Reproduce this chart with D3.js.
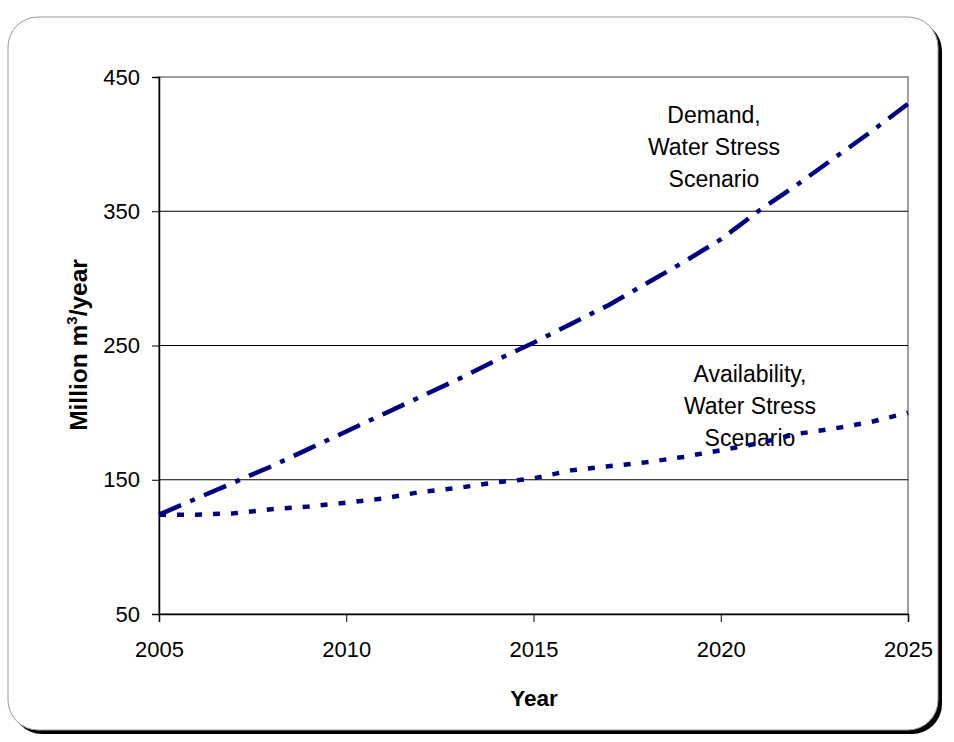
<!DOCTYPE html>
<html>
<head>
<meta charset="utf-8">
<script src="https://cdn.jsdelivr.net/npm/d3@7"></script>
<style>
html,body{margin:0;padding:0;background:#fff;}
text{font-family:"Liberation Sans",Arial,sans-serif;}
</style>
</head>
<body>
<svg id="chart" width="954" height="742"></svg>
<script>
const years = [2005,2006,2007,2008,2009,2010,2011,2012,2013,2014,2015,2016,2017,2018,2019,2020,2021,2022,2023,2024,2025];
const demand = [124,136,148,160,173,186,199,212,225,239,252,266,280,296,312,329,350,369,389,409,430];
const availability = [124,124,125,128,130,133,136,141,144,148,151,157,160,163,167,172,177,184,188,193,200];
const yTicks = [50,150,250,350,450];
const xTicks = [2005,2010,2015,2020,2025];
const demandLabel = ["Demand,","Water Stress","Scenario"];
const availLabel = ["Availability,","Water Stress","Scenario"];

const svg = d3.select("#chart");

// frame with shadow
svg.append("rect").attr("x",12).attr("y",21).attr("width",930).attr("height",713)
  .attr("rx",30).attr("ry",30).attr("fill","#000");
svg.append("rect").attr("x",8).attr("y",17).attr("width",930).attr("height",713)
  .attr("rx",30).attr("ry",30).attr("fill","#fff").attr("stroke","#9a9a9a").attr("stroke-width",1);

const L=159, R=908, T=77, B=614;
const x = d3.scaleLinear().domain([2005,2025]).range([L,R]);
const y = d3.scaleLinear().domain([50,450]).range([B,T]);

// plot border (grey)
svg.append("rect").attr("x",L).attr("y",T).attr("width",R-L).attr("height",B-T)
  .attr("fill","none").attr("stroke","#808080").attr("stroke-width",1.5);

// gridlines
svg.append("g").selectAll("line").data(yTicks.filter(d=>d>50&&d<450)).join("line")
  .attr("x1",L).attr("x2",R).attr("y1",d=>y(d)).attr("y2",d=>y(d))
  .attr("stroke","#000").attr("stroke-width",1);

// axes
const yAxis = svg.append("g").attr("transform",`translate(${L},0)`)
  .call(d3.axisLeft(y).tickValues(yTicks).tickSize(7).tickPadding(12).tickFormat(d3.format("d")));
const xAxis = svg.append("g").attr("transform",`translate(0,${B})`)
  .call(d3.axisBottom(x).tickValues(xTicks).tickSize(8).tickPadding(19).tickFormat(d3.format("d")));
[yAxis,xAxis].forEach(a=>{
  a.select(".domain").attr("stroke","#000").attr("stroke-width",1.5);
  a.selectAll(".tick line").attr("stroke","#000").attr("stroke-width",1);
  a.selectAll("text").attr("font-size",22).attr("fill","#000")
    .attr("font-family","'Liberation Sans',Arial,sans-serif");
});

// axis titles
svg.append("text").attr("x",534).attr("y",706).attr("text-anchor","middle")
  .attr("font-size",22.5).attr("font-weight","bold").text("Year");
const yt = svg.append("text").attr("transform","translate(87,345) rotate(-90)")
  .attr("text-anchor","middle").attr("font-size",24.5).attr("font-weight","bold");
yt.append("tspan").text("Million m");
yt.append("tspan").attr("font-size",15).attr("dy",-10).text("3");
yt.append("tspan").attr("dy",10).text("/year");

// annotations
function label(lines, cx, y0){
  const t = svg.append("text").attr("text-anchor","middle").attr("font-size",23).attr("fill","#000");
  lines.forEach((s,i)=>t.append("tspan").attr("x",cx).attr("y",y0+i*32).text(s));
}
label(demandLabel, 714, 123);
label(availLabel, 750, 382);

// lines
const line = d3.line().x((d,i)=>x(years[i])).y(d=>y(d));
svg.append("path").datum(demand).attr("d",line).attr("fill","none")
  .attr("stroke","#000080").attr("stroke-width",4.5).attr("stroke-dasharray","24,10,5,10");
svg.append("path").datum(availability).attr("d",line).attr("fill","none")
  .attr("stroke","#000080").attr("stroke-width",4.5).attr("stroke-dasharray","7,11");
</script>
</body>
</html>
